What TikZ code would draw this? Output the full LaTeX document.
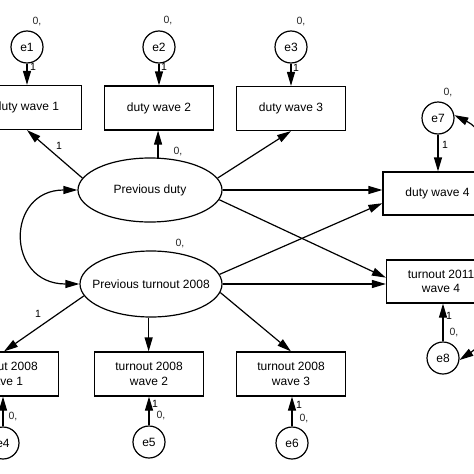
\documentclass[tikz,border=0pt]{standalone}
\usepackage{fontspec}
\setmainfont{Liberation Sans}
\usetikzlibrary{arrows.meta,shapes.geometric}
\begin{document}
\begin{tikzpicture}[x=1pt,y=-1pt,
  tip/.tip={Triangle[length=14pt,width=8pt]},
  arr/.style={-tip, line width=1.2pt},
  arrtwo/.style={tip-tip, line width=1.2pt},
  obs/.style={draw, line width=1.2pt, minimum width=109pt, minimum height=44pt, font=\fontsize{12}{14.5}\selectfont, align=center, inner sep=0pt},
  lat/.style={draw, ellipse, line width=1.2pt, inner sep=0pt, font=\fontsize{12}{14}\selectfont},
  err/.style={draw, circle, line width=1.2pt, minimum size=32pt, inner sep=0pt, font=\fontsize{12}{14}\selectfont},
  lab/.style={font=\fontsize{10.5}{12}\selectfont, inner sep=0pt, text=black!85}
]
\useasboundingbox (0,0) rectangle (474,474);
\clip (0,0) rectangle (474,474);

% observed variables
\node[obs] (dw1) at (27,107.5) {duty wave 1};
\node[obs] (dw2) at (159,108) {duty wave 2};
\node[obs] (dw3) at (291,108.5) {duty wave 3};
\node[obs, minimum height=43pt] (dw4) at (437.5,193.5) {duty wave 4};
\node[obs, minimum height=43pt] (t11) at (441,281.5) {turnout 2011\\wave 4};
\node[obs] (t1) at (4,374) {turnout 2008\\wave 1};
\node[obs] (t2) at (149,374) {turnout 2008\\wave 2};
\node[obs] (t3) at (291,374) {turnout 2008\\wave 3};

% latent variables
\node[lat, minimum width=144pt, minimum height=64pt] (pd) at (150,190) {\makebox[0pt]{Previous duty}};
\node[lat, minimum width=142pt, minimum height=66pt] (pt) at (151,284) {\makebox[0pt]{Previous turnout 2008}};

% error terms
\node[err] (e1) at (27,47) {e1};
\node[err] (e2) at (159,47) {e2};
\node[err] (e3) at (291,47) {e3};
\node[err] (e7) at (438,118) {e7};
\node[err] (e8) at (443,358) {e8};
\node[err] (e4) at (3,443) {e4};
\node[err] (e5) at (149,442) {e5};
\node[err] (e6) at (292,443) {e6};

% error arrows
\draw[arr] (e1) -- (dw1);
\draw[arr] (e2) -- (dw2);
\draw[arr] (e3) -- (dw3);
\draw[arr] (e7) -- (e7 |- dw4.north);
\draw[arr] (e8) -- (e8 |- t11.south);
\draw[arr] (e4) -- (e4 |- t1.south);
\draw[arr] (e5) -- (t2);
\draw[arr] (e6) -- (e6 |- t3.south);

% loadings
\draw[arr] (pd.170) -- (dw1.south);
\draw[arr] (pd.76) -- (pd.76 |- dw2.south);
\draw[arr] (pd.10) -- (dw3.south);
\draw[arr] (pt.190) -- (t1.north);
\draw[arr] (pt.266) -- (pt.266 |- t2.north);
\draw[arr] (pt.-7) -- (t3.north);

% structural paths
\draw[arr] (pd.east) -- (pd.east -| dw4.west);
\draw[arr] (pd.-8) -- (t11.176);
\draw[arr] (pt.8) -- (dw4.190);
\draw[arr] (pt.east) -- (pt.east -| t11.west);

% covariances
\draw[arrtwo] (pd.west) .. controls +(-72,0) and +(-74,0) .. (pt.west);
\draw[arrtwo] (e7.10) .. controls +(60,30) and +(60,-40) .. (e8.-7);

% labels
\node[lab] (l1) at (37,22) {0,};
\node[lab] (l2) at (168,21) {0,};
\node[lab] (l3) at (301,22) {0,};
\node[lab] (l7) at (448,93) {0,};
\node[lab] (lpd) at (178,152) {0,};
\node[lab] (lpt) at (180,244) {0,};
\node[lab] (l4) at (13,417) {0,};
\node[lab] (l5) at (161,416) {0,};
\node[lab] (l6) at (304,418) {0,};
\node[lab] (l8) at (454,333) {0,};
\node[lab, text=black] (o1) at (33,67) {1};
\node[lab, text=black] (o2) at (164,67) {1};
\node[lab, text=black] (o3) at (296,68) {1};
\node[lab, text=black] (o7) at (445,145) {1};
\node[lab, text=black] (opd) at (59,146) {1};
\node[lab, text=black] (opt) at (38,314) {1};
\node[lab, text=black] (o5) at (155,404) {1};
\node[lab, text=black] (o6) at (299,405) {1};
\node[lab, text=black] (o8) at (449,316) {1};
\end{tikzpicture}
\end{document}
